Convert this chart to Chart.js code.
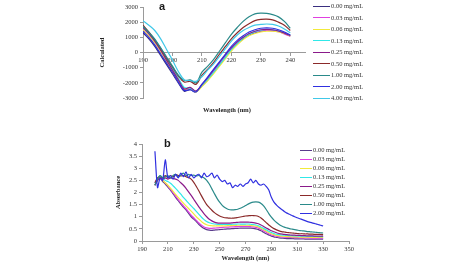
<!DOCTYPE html>
<html lang="en">
<head>
<meta charset="UTF-8">
<title>CD and absorbance spectra</title>
<script src="https://cdn.jsdelivr.net/npm/chart.js"></script>
<style>
  body { margin:0; background:#fff; width:474px; height:267px; position:relative; overflow:hidden; }
  canvas { position:absolute; left:0; }
  .tag { position:absolute; font:bold 11px "Liberation Sans", Arial, sans-serif; color:#1a1a1a; line-height:13px; }
  .xtitle { position:absolute; font:bold 6.5px "Liberation Serif", serif; color:#222; white-space:nowrap; transform:translateX(-50%); line-height:8px; }
  .leg { position:absolute; font:6.5px "Liberation Serif", serif; color:#333; white-space:nowrap; line-height:8px; height:8px; }
  .leg i { position:absolute; top:3.5px; height:1.4px; }
</style>
</head>
<body>
  <canvas id="cdChart" width="474" height="130" style="top:0"></canvas>
  <canvas id="absChart" width="474" height="137" style="top:130px"></canvas>
  <div class="tag" style="left:159px; top:0px;">a</div>
  <div class="tag" style="left:164px; top:137px;">b</div>
  <div class="xtitle" style="left:227px; top:106px;">Wavelength (nm)</div>
  <div id="legendA"></div>
  <div id="legendB"></div>

<script>
// ---- panel a: calculated CD spectra ----
const cdWavelength = [190,192,194,196,198,200,202,204,206,208,210,212,214,216,218,220,222,224,226,228,230,232,234,236,238,240];
const cdTicks = [190,200,210,220,230,240];
const cdLabels = ['0.00 mg/mL','0.03 mg/mL','0.06 mg/mL','0.13 mg/mL','0.25 mg/mL','0.50 mg/mL','1.00 mg/mL','2.00 mg/mL','4.00 mg/mL'];
const cdColors = ['#3a2f80','#e040e0','#f2ea3a','#30e8e8','#8a1a8a','#8b2a2a','#2a8a8a','#3030e0','#40c8e8'];

const cd000 = [1300,900,400,-200,-800,-1400,-2000,-2550,-2450,-2600,-2200,-1800,-1300,-800,-300,200,600,900,1150,1300,1400,1450,1450,1400,1250,1100];
const cd003 = [1600,1200,700,100,-550,-1200,-1850,-2450,-2350,-2550,-2150,-1750,-1250,-750,-250,250,650,950,1200,1350,1420,1450,1430,1370,1230,1080];
const cd006 = [1500,1100,650,50,-600,-1250,-1900,-2400,-2400,-2600,-2250,-1850,-1400,-900,-400,100,500,850,1100,1250,1350,1400,1400,1350,1250,1100];
const cd013 = [1750,1350,900,300,-400,-1050,-1700,-2300,-2350,-2550,-2150,-1750,-1300,-800,-300,200,600,950,1200,1380,1480,1520,1500,1430,1300,1150];
const cd025 = [1650,1250,750,150,-500,-1150,-1800,-2400,-2300,-2550,-2100,-1650,-1150,-650,-150,300,700,1000,1250,1400,1500,1530,1500,1420,1280,1120];
const cd050 = [1800,1350,850,250,-350,-950,-1550,-1950,-1900,-2100,-1500,-1100,-650,-100,400,900,1300,1650,1900,2100,2180,2200,2150,2000,1800,1450];
const cd100 = [1700,1300,850,300,-300,-900,-1500,-1850,-1800,-2000,-1300,-900,-450,100,650,1200,1650,2050,2350,2550,2600,2580,2500,2350,2050,1600];
const cd200 = [1400,1000,500,-100,-700,-1300,-1950,-2500,-2450,-2600,-2100,-1600,-1100,-600,-100,400,800,1100,1350,1500,1600,1620,1600,1500,1350,1150];
const cd400 = [2100,1800,1450,900,200,-500,-1250,-1800,-1850,-1900,-1600,-1150,-750,-250,250,750,1150,1450,1650,1800,1850,1880,1850,1750,1550,1300];
const cdSeries = [cd000, cd003, cd006, cd013, cd025, cd050, cd100, cd200, cd400];

// ---- panel b: absorbance spectra ----
const absWavelength = [200,202,204,206,208,210,212,214,216,218,220,222,224,226,228,230,232,234,236,238,240,242,244,246,248,250,252,254,256,258,260,262,264,266,268,270,272,274,276,278,280,282,284,286,288,290,292,294,296,298,300,302,304,306,308,310,312,314,316,318,320,322,324,326,328,330];
const absLabels = ['0.00 mg/mL','0.03 mg/mL','0.06 mg/mL','0.13 mg/mL','0.25 mg/mL','0.50 mg/mL','1.00 mg/mL','2.00 mg/mL'];
const absColors = ['#5a3c8c','#e040e0','#f2ea3a','#30e8e8','#8a1a8a','#8b2a2a','#2a8a8a','#3030e0'];

const abs000 = [2.3,2.55,2.6,2.45,2.35,2.22,2.1,1.95,1.8,1.66,1.52,1.4,1.28,1.14,1.0,0.9,0.8,0.68,0.59,0.52,0.47,0.45,0.44,0.45,0.46,0.47,0.48,0.49,0.5,0.5,0.51,0.52,0.52,0.53,0.53,0.53,0.53,0.53,0.52,0.5,0.47,0.42,0.36,0.3,0.25,0.2,0.17,0.15,0.13,0.12,0.11,0.1,0.1,0.1,0.09,0.09,0.09,0.09,0.08,0.08,0.08,0.08,0.08,0.08,0.08,0.08];
const abs003 = [2.4,2.6,2.55,2.5,2.4,2.27,2.14,1.99,1.85,1.71,1.57,1.45,1.33,1.2,1.07,0.96,0.85,0.74,0.65,0.58,0.54,0.52,0.52,0.53,0.54,0.55,0.56,0.57,0.57,0.58,0.58,0.59,0.59,0.6,0.6,0.6,0.6,0.59,0.58,0.56,0.53,0.48,0.42,0.36,0.3,0.25,0.22,0.2,0.18,0.17,0.16,0.15,0.15,0.14,0.14,0.14,0.13,0.13,0.13,0.13,0.12,0.12,0.12,0.12,0.12,0.12];
const abs006 = [2.3,2.5,2.6,2.5,2.4,2.3,2.18,2.05,1.92,1.8,1.68,1.56,1.45,1.34,1.23,1.12,1.0,0.9,0.8,0.72,0.67,0.64,0.63,0.62,0.62,0.62,0.62,0.62,0.63,0.63,0.64,0.64,0.65,0.65,0.65,0.65,0.65,0.64,0.63,0.61,0.58,0.53,0.47,0.41,0.35,0.3,0.26,0.23,0.21,0.2,0.19,0.18,0.18,0.17,0.17,0.17,0.16,0.16,0.16,0.16,0.15,0.15,0.15,0.15,0.15,0.15];
const abs013 = [2.4,2.55,2.7,2.6,2.5,2.45,2.38,2.28,2.17,2.05,1.93,1.8,1.68,1.56,1.45,1.34,1.22,1.1,0.98,0.88,0.8,0.75,0.72,0.7,0.69,0.68,0.68,0.68,0.68,0.68,0.69,0.69,0.7,0.7,0.7,0.7,0.7,0.69,0.68,0.66,0.63,0.58,0.52,0.46,0.4,0.35,0.31,0.28,0.26,0.25,0.24,0.23,0.22,0.22,0.21,0.21,0.2,0.2,0.2,0.19,0.19,0.19,0.19,0.18,0.18,0.18];
const abs025 = [2.3,2.5,2.6,2.55,2.6,2.55,2.6,2.58,2.55,2.5,2.4,2.3,2.17,2.03,1.88,1.72,1.56,1.41,1.26,1.12,1.0,0.9,0.83,0.78,0.75,0.74,0.74,0.74,0.74,0.74,0.75,0.76,0.77,0.78,0.78,0.78,0.78,0.77,0.76,0.74,0.71,0.66,0.6,0.54,0.48,0.42,0.38,0.34,0.31,0.29,0.27,0.26,0.25,0.24,0.24,0.23,0.23,0.22,0.22,0.21,0.21,0.21,0.2,0.2,0.2,0.2];
const abs050 = [2.4,2.6,2.65,2.6,2.7,2.6,2.7,2.65,2.75,2.7,2.68,2.7,2.65,2.62,2.55,2.42,2.25,2.06,1.86,1.67,1.5,1.38,1.27,1.17,1.09,1.03,0.99,0.96,0.95,0.94,0.94,0.95,0.97,0.99,1.01,1.03,1.04,1.05,1.05,1.04,1.01,0.95,0.86,0.76,0.66,0.58,0.51,0.46,0.42,0.39,0.37,0.35,0.34,0.33,0.32,0.31,0.3,0.3,0.29,0.29,0.28,0.28,0.27,0.27,0.27,0.26];
const abs100 = [2.3,2.55,2.7,2.6,2.65,2.7,2.6,2.7,2.75,2.65,2.72,2.8,2.7,2.75,2.7,2.72,2.68,2.7,2.65,2.6,2.5,2.35,2.15,1.95,1.76,1.6,1.47,1.38,1.32,1.29,1.28,1.29,1.31,1.35,1.4,1.46,1.52,1.57,1.6,1.61,1.6,1.55,1.45,1.3,1.13,0.98,0.86,0.76,0.68,0.62,0.57,0.54,0.51,0.49,0.47,0.45,0.43,0.42,0.41,0.39,0.38,0.37,0.36,0.35,0.34,0.33];
const abs200 = [3.7,2.2,2.6,2.5,3.35,2.6,2.7,2.55,2.75,2.6,2.8,2.65,2.85,2.6,2.75,2.6,2.7,2.75,2.6,2.8,2.65,2.7,2.8,2.6,2.72,2.55,2.45,2.5,2.35,2.4,2.2,2.3,2.25,2.35,2.25,2.35,2.4,2.55,2.4,2.5,2.35,2.3,2.35,2.25,2.1,1.8,1.6,1.48,1.38,1.3,1.22,1.15,1.1,1.05,1.0,0.96,0.92,0.88,0.84,0.8,0.77,0.74,0.71,0.68,0.65,0.62];
const absSeries = [abs000, abs003, abs006, abs013, abs025, abs050, abs100, abs200];

const tickFont = { family: '"Liberation Serif", serif', size: 6.5 };
const titleFont = { family: '"Liberation Serif", serif', size: 6.5, weight: 'bold' };
const axisGrey = '#9a9a9a';

function makeDatasets(xs, series, labels, colors, tension) {
    return series.map((ys, i) => ({
        label: labels[i],
        data: ys.map((y, k) => ({ x: xs[k], y: y })),
        borderColor: colors[i],
        borderWidth: 1.2,
        pointRadius: 0,
        tension: tension,
        fill: false,
        order: series.length - i
    }));
}

function buildLegend(id, labels, colors, left, top, step, lineW) {
    const box = document.getElementById(id);
    labels.forEach((txt, i) => {
        const row = document.createElement('div');
        row.className = 'leg';
        row.style.left = left + 'px';
        row.style.top = (top + i * step - 4) + 'px';
        row.style.paddingLeft = (lineW + 1) + 'px';
        row.innerHTML = '<i style="left:0;width:' + lineW + 'px;background:' + colors[i] + '"></i>' + txt;
        box.appendChild(row);
    });
}

// panel a
new Chart(document.getElementById('cdChart'), {
    type: 'line',
    data: { datasets: makeDatasets(cdWavelength, cdSeries, cdLabels, cdColors, 0.35) },
    options: {
        responsive: false,
        animation: false,
        layout: { padding: { left: 0, right: 169, top: 7, bottom: 32 } },
        plugins: { legend: { display: false }, tooltip: { enabled: false } },
        scales: {
            x: {
                type: 'linear',
                min: 190, max: 245,
                position: { y: 0 },
                afterFit: s => { s.height = 0; },
                afterBuildTicks: s => { s.ticks = cdTicks.map(v => ({ value: v })); },
                ticks: { font: tickFont, color: '#333', padding: 1, maxRotation: 0, autoSkip: false, callback: v => String(v) },
                grid: { drawOnChartArea: false, tickLength: 3, color: axisGrey },
                border: { color: axisGrey }
            },
            y: {
                min: -3000, max: 3000,
                afterFit: s => { s.width = 143; },
                ticks: { stepSize: 1000, font: tickFont, color: '#333', padding: 2, callback: v => String(v) },
                grid: { drawOnChartArea: false, tickLength: 3, color: axisGrey },
                border: { color: axisGrey },
                title: { display: true, text: 'Calculated', font: titleFont, color: '#222', padding: { top: 98, bottom: 0 } }
            }
        }
    }
});

// panel b
new Chart(document.getElementById('absChart'), {
    type: 'line',
    data: { datasets: makeDatasets(absWavelength, absSeries, absLabels, absColors, 0.25) },
    options: {
        responsive: false,
        animation: false,
        layout: { padding: { left: 0, right: 125, top: 14, bottom: 0 } },
        plugins: { legend: { display: false }, tooltip: { enabled: false } },
        scales: {
            x: {
                type: 'linear',
                min: 190, max: 350,
                afterFit: s => { s.height = 26; },
                ticks: { stepSize: 20, font: tickFont, color: '#333', padding: 1, maxRotation: 0, callback: v => String(v) },
                grid: { drawOnChartArea: false, tickLength: 3, color: axisGrey },
                border: { color: axisGrey },
                title: { display: true, text: 'Wavelength (nm)', font: titleFont, color: '#222', padding: { top: 5, bottom: 5 } }
            },
            y: {
                min: 0, max: 4,
                afterFit: s => { s.width = 142; },
                ticks: { stepSize: 0.5, font: tickFont, color: '#333', padding: 2, callback: v => String(v) },
                grid: { drawOnChartArea: false, tickLength: 3, color: axisGrey },
                border: { color: axisGrey },
                title: { display: true, text: 'Absorbance', font: titleFont, color: '#222', padding: { top: 114, bottom: 0 } }
            }
        }
    }
});

buildLegend('legendA', cdLabels, cdColors, 313, 6, 11.5, 17);
buildLegend('legendB', absLabels, absColors, 300, 150, 9, 12);
</script>
</body>
</html>
